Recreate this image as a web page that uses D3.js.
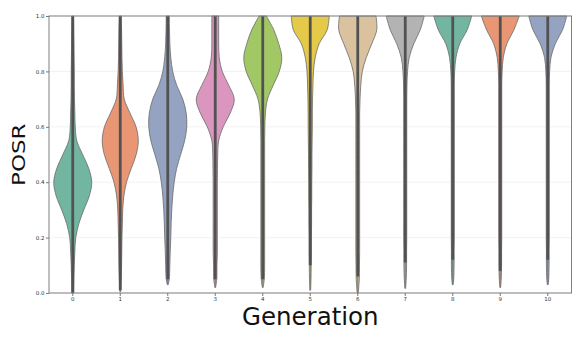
<!DOCTYPE html>
<html>
<head>
<meta charset="utf-8">
<script src="https://cdn.jsdelivr.net/npm/d3@7"></script>
<style>
  body { margin: 0; background: #fff; }
  text { font-family: "DejaVu Sans", sans-serif; }
</style>
</head>
<body>
<svg id="chart" width="587" height="352"></svg>
<script>
// generations on the x axis
var generations = ['0', '1', '2', '3', '4', '5', '6', '7', '8', '9', '10'];
var yTicks = [0.0, 0.2, 0.4, 0.6, 0.8, 1.0];

var posrGrid = [0, 0.05, 0.1, 0.15, 0.2, 0.25, 0.3, 0.35, 0.4, 0.45, 0.5,
                0.55, 0.6, 0.65, 0.7, 0.75, 0.8, 0.85, 0.9, 0.95, 1.0];

// relative density (1 = widest) at each posrGrid level, one row per generation
var density0  = [.05, .06, .08, .11, .16, .32, .58, .87, 1, .84, .52, .21, .13, .11, .09, .08, .08, .07, .06, .05, .04];
var density1  = [.04, .05, .07, .08, .09, .11, .13, .19, .33, .58, .84, .95, .83, .51, .21, .15, .11, .09, .08, .07, .05];
var density2  = [.03, .08, .11, .13, .16, .18, .21, .26, .34, .47, .68, .89, 1, .97, .79, .47, .26, .16, .11, .09, .08];
var density3  = [.03, .08, .09, .11, .11, .11, .11, .11, .11, .12, .13, .18, .42, .79, 1, .71, .37, .21, .18, .18, .18];
var density4  = [.03, .08, .1, .1, .1, .1, .1, .1, .1, .1, .1, .1, .11, .14, .25, .55, .87, 1, .84, .58, .19];
var density5  = [.02, .04, .05, .06, .06, .07, .07, .08, .08, .09, .09, .1, .11, .11, .12, .14, .17, .26, .47, .89, 1];
var density6  = [.03, .08, .09, .1, .1, .1, .1, .1, .1, .1, .1, .1, .1, .1, .12, .16, .24, .45, .74, 1, .96];
var density7  = [.02, .05, .07, .07, .08, .08, .08, .08, .08, .08, .08, .08, .08, .08, .08, .09, .12, .21, .45, .79, 1];
var density8  = [.02, .05, .07, .07, .08, .08, .08, .08, .08, .08, .08, .08, .08, .08, .08, .08, .1, .17, .37, .76, 1];
var density9  = [.02, .05, .07, .07, .08, .08, .08, .08, .08, .08, .08, .08, .08, .08, .08, .08, .1, .16, .35, .72, 1];
var density10 = [.02, .05, .07, .07, .08, .08, .08, .08, .08, .08, .08, .08, .08, .08, .08, .08, .1, .17, .4, .78, 1];

// data extent per generation, and where the dense inner column stops
var posrMin  = [0, 0.005, 0.03, 0.02, 0.02, 0.01, 0, 0.017, 0.03, 0.02, 0.03];
var posrMax  = [1, 1, 1, 1, 1, 1, 1, 1, 1, 1, 1];
var denseLow = [0, 0.01, 0.05, 0.05, 0.05, 0.1, 0.06, 0.11, 0.12, 0.08, 0.12];

var densities = [density0, density1, density2, density3, density4, density5,
                 density6, density7, density8, density9, density10];

var margin = {top: 16, right: 15.5, bottom: 59, left: 49};
var width = 587 - margin.left - margin.right;
var height = 352 - margin.top - margin.bottom;

var svg = d3.select('#chart');
var g = svg.append('g').attr('transform', 'translate(' + margin.left + ',' + margin.top + ')');

var x = d3.scaleBand().domain(generations).range([0, width]).padding(0);
var y = d3.scaleLinear().domain([0, 1]).range([height, 0]);
var halfWidth = d3.scaleLinear().domain([0, 1]).range([0, x.bandwidth() * 0.4]);

// seaborn Set2, desaturated like the violinplot default
var palette = d3.schemeSet2.map(function(c) {
  var h = d3.hsl(c);
  h.s *= 0.75;
  return h.formatHex();
});

// grid
g.append('g').selectAll('line')
  .data(yTicks)
  .enter().append('line')
  .attr('x1', 0).attr('x2', width)
  .attr('y1', y).attr('y2', y)
  .attr('stroke', '#efefef')
  .attr('stroke-width', 0.8);

var area = d3.area()
  .y(function(d) { return y(d.v); })
  .x0(function(d) { return -halfWidth(d.w); })
  .x1(function(d) { return halfWidth(d.w); })
  .curve(d3.curveCatmullRom);

var violins = g.selectAll('.violin')
  .data(generations)
  .enter().append('g')
  .attr('class', 'violin')
  .attr('transform', function(d) { return 'translate(' + (x(d) + x.bandwidth() / 2) + ',0)'; });

violins.append('path')
  .attr('d', function(d, i) {
    var pts = [];
    posrGrid.forEach(function(v, j) {
      if (v >= posrMin[i] && v <= posrMax[i]) pts.push({v: v, w: densities[i][j]});
    });
    if (pts[0].v > posrMin[i]) pts.unshift({v: posrMin[i], w: 0.02});
    return area(pts);
  })
  .attr('fill', function(d, i) { return palette[i % 8]; })
  .attr('stroke', '#6a6a6a')
  .attr('stroke-width', 0.8);

// thin whisker through the full range
violins.append('line')
  .attr('x1', 0).attr('x2', 0)
  .attr('y1', function(d, i) { return y(posrMin[i]); })
  .attr('y2', function(d, i) { return y(posrMax[i]); })
  .attr('stroke', '#7a7a7a')
  .attr('stroke-width', 1);

// dense inner column
violins.append('line')
  .attr('x1', 0).attr('x2', 0)
  .attr('y1', function(d, i) { return y(denseLow[i]); })
  .attr('y2', function(d, i) { return y(posrMax[i]); })
  .attr('stroke', '#525252')
  .attr('stroke-width', 2.8);

// frame
g.append('rect')
  .attr('width', width).attr('height', height)
  .attr('fill', 'none')
  .attr('stroke', '#808080')
  .attr('stroke-width', 1);

var xAxis = g.append('g')
  .attr('transform', 'translate(0,' + height + ')')
  .call(d3.axisBottom(x).tickSize(3).tickPadding(1));
var yAxis = g.append('g')
  .call(d3.axisLeft(y).tickValues(yTicks).tickFormat(d3.format('.1f')).tickSize(3).tickPadding(1.5));

[xAxis, yAxis].forEach(function(ax) {
  ax.select('.domain').remove();
  ax.selectAll('line').attr('stroke', '#777');
  ax.selectAll('text').attr('font-size', 5.5).attr('fill', '#333')
    .style('font-family', '"DejaVu Sans", sans-serif');
});

svg.append('text')
  .attr('x', margin.left + width / 2)
  .attr('y', 324.5)
  .attr('text-anchor', 'middle')
  .attr('font-size', 24.5)
  .attr('fill', '#111')
  .text('Generation');

svg.append('text')
  .attr('transform', 'translate(24.5,154.7) rotate(-90) scale(1,0.8)')
  .attr('text-anchor', 'middle')
  .attr('font-size', 23)
  .attr('fill', '#111')
  .text('POSR');
</script>
</body>
</html>
